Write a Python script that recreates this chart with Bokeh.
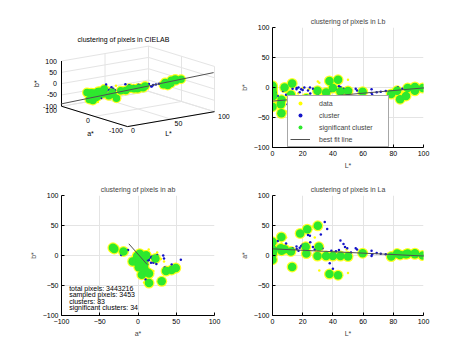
import numpy as np
from bokeh.plotting import figure
from bokeh.layouts import column, row
from bokeh.models import Range1d, Legend, LegendItem, FixedTicker
from bokeh.core.properties import value
from bokeh.embed import file_html
from bokeh.resources import INLINE

FONT = "Liberation Sans"
FS = "7px"

# ---------------- data ----------------
# significant clusters (L*, a*, b*)
sig_L = [0, 0, 0, 0, 0, 0.5, 5.9, 5.5, 6, 8, 12.2, 13, 18.3, 23, 22, 22.4, 30,
         30.7, 29.8, 35.5, 37.7, 40, 43.4, 45, 50, 59.7, 78.6, 82.5, 84.5, 88.4,
         89.5, 94.3, 94.3, 99.5]
sig_a = [22.8, 10.6, 2.2, -7, 5, 8, 31, 12, 8, 10.6, 6.7, -19, 36.7, 43.9, 14.4,
         3.3, 49.4, 14.4, -1, -1, -31, -1, -32.8, -1, -1.7, 3.9, -1.7, 3.3, 1, 2,
         3.3, 3.9, 2, 0]
sig_b = [-5, 0, 3, -10, -32, -14, -43, -28, -20.5, 0, -12, 6.7, -26, -24, -30,
         -18, -21, -46, -5.5, -8.3, 11, -1, 12.8, -6.7, -6, -7, -11, -5.5, -19.4,
         -14, -1, 1, -5.5, -1]

# non-significant clusters (L*, a*, b*)
cl_L = [3.5, 13.3, 15.9, 17.2, 19, 21.1, 23.5, 24.8, 26.8, 34.6, 36.2, 37.9, 40,
        49.5, 55.1, 56, 65.6, 65.6, 66, 71.7, 83, 45, 47, 10, 28, 32, 42, 44, 52,
        60, 69, 75, 86, 92, 97, 2, 1, 7, 9, 12, 14, 18, 20, 25, 30, 33, 39, 48, 16]
cl_a = [24, 12, 15, 8, 16, 10, 34, 33, 14, 56, 44, -13, -22, 12, 12, 10, 8, -1, 2,
        3, 2, 25, 19, 6, 10, 35, 7, 9, 5, 6, 4, 2, 4, 1, 2, 12, 18, 14, 20, 5, 9,
        13, 18, 22, 17, 12, 8, 14, 11]
cl_b = [-14, -2, -3, 0, -3, 0, -5, 0, -2, -7, -15, 9, 1, -3, -2, -5, -3, -9, -12,
        -7, 0.5, 1, -2, -28, -40, -20, -3, 2, -4, -6, -8, -6, -2, -4, -2, -8, -2,
        -6, -12, -16, -22, -8, -4, -10, -12, -15, -6, -8, -1]

# sampled pixel data (L*, a*, b*)
dat_L = [1, 2, 3, 4, 6, 7, 2, 1, 30, 31, 50, 49, 24, 20, 28, 17, 84, 86, 88, 91,
         93, 96, 98, 80, 44, 39, 60, 62, 36, 46, 14, 12, 22, 27, 19, 9, 6, 5, 33, 0]
dat_a = [8, 15, 6, 10, 20, 8, 25, -10, 14, -25, -29, 10, 12, 15, 30, 34, 2, 3, 4, 2,
         5, 1, 3, 0, -30, -28, 2, 5, 0, 1, -17, 8, 45, 48, 38, 30, 14, 33, 14, 4]
dat_b = [-35, -25, -30, -38, -26, -45, 5, -8, 10, 8, 13, -4, -3, -1, -6, -10, -3,
         -8, -4, -7, -1, -6, -3, -14, 14, 9, -9, -5, -10, -8, 4, -14, -22, -19, -28,
         -40, -46, -44, -44, -28]

# best fit lines
fit_L = [-33, 135]
fit_a = [15, -5]
fit_b = [-30, 7]
fit_ab_a = [-12, 12]
fit_ab_b = [19.5, -15]

total_pixels = 3443216
sampled_pixels = 3453
n_clusters = 83
n_significant = 34

L_ticks2d = [0, 20, 40, 60, 80, 100]
ab_ticks2d = [-100, -50, 0, 50, 100]
L_ticks3d = [0, 50, 100]
a_ticks3d = [-100, 0, 100]
b_ticks3d = [-100, -50, 0, 50, 100]

YEL = "#ffff00"
BLU = "#1414c8"
GRN = "#2ee82e"
LINE = "#505050"
GRID = "#e4e4e4"


def style_axes(p, xticks, yticks, xlabel, ylabel, title):
    p.title.text = title
    p.title.text_font = FONT
    p.title.text_font_size = FS
    p.title.text_font_style = "normal"
    p.title.align = "center"
    p.title.standoff = 5
    p.xaxis.ticker = FixedTicker(ticks=xticks)
    p.yaxis.ticker = FixedTicker(ticks=yticks)
    p.xaxis.axis_label = xlabel
    p.yaxis.axis_label = ylabel
    for ax in p.axis:
        ax.major_tick_in = 3
        ax.major_tick_out = 0
        ax.minor_tick_in = 0
        ax.minor_tick_out = 0
        ax.axis_line_color = "black"
        ax.major_tick_line_color = "black"
        ax.major_label_text_font = FONT
        ax.major_label_text_font_size = FS
        ax.major_label_text_color = "black"
        ax.major_label_standoff = 3
        ax.axis_label_text_font = FONT
        ax.axis_label_text_font_size = FS
        ax.axis_label_text_font_style = "normal"
        ax.axis_label_standoff = 3
    p.grid.grid_line_color = GRID
    p.outline_line_color = None
    p.background_fill_color = "white"
    p.border_fill_color = "white"


def make2d(w, h, left, right, top, bottom, xr, yr):
    return figure(width=w, height=h, x_range=Range1d(*xr), y_range=Range1d(*yr),
                  output_backend="svg", toolbar_location=None,
                  min_border_left=left, min_border_right=right,
                  min_border_top=top, min_border_bottom=bottom)


def draw_points(p, xd, yd, xc, yc, xs, ys, xf, yf, size_sig=8.5):
    p.scatter(xs, ys, size=size_sig + 2.5, fill_color=YEL, fill_alpha=0.85,
              line_color=None)
    r_dat = p.scatter(xd, yd, size=2.5, fill_color=YEL, line_color=None)
    r_cl = p.scatter(xc + xs, yc + ys, size=2.5, fill_color=BLU, line_color=None)
    r_sig = p.scatter(xs, ys, size=size_sig, fill_color=GRN, line_color=None)
    r_fit = p.line(xf, yf, line_color=LINE, line_width=1)
    return r_dat, r_cl, r_sig, r_fit


# ---------------- 3D panel (projected) ----------------
def proj(L, a, b):
    L = np.asarray(L, float); a = np.asarray(a, float); b = np.asarray(b, float)
    x = 94.0 + 0.87 * L - 0.33 * a
    y = 97.8 - 0.22 * L - 0.15 * a - 0.3335 * b
    return x, y


p3 = figure(width=237, height=177, x_range=Range1d(0, 237), y_range=Range1d(177, 0),
            output_backend="svg", toolbar_location=None, min_border=0)
p3.axis.visible = False
p3.grid.visible = False
p3.outline_line_color = None

gx, gy = [], []
def seg(p0, p1):
    x, y = proj([p0[0], p1[0]], [p0[1], p1[1]], [p0[2], p1[2]])
    gx.append(list(x)); gy.append(list(y))

Lmin, Lmax = L_ticks3d[0], L_ticks3d[-1]
amin, amax = a_ticks3d[0], a_ticks3d[-1]
zmin, zmax = b_ticks3d[0], b_ticks3d[-1]
for L in L_ticks3d:
    seg((L, amax, zmin), (L, amax, zmax))
    seg((L, amin, zmin), (L, amax, zmin))
for a in a_ticks3d:
    seg((Lmax, a, zmin), (Lmax, a, zmax))
    seg((Lmin, a, zmin), (Lmax, a, zmin))
for z in b_ticks3d:
    seg((Lmin, amax, z), (Lmax, amax, z))
    seg((Lmax, amin, z), (Lmax, amax, z))
p3.multi_line(gx, gy, line_color=GRID, line_width=1)

ax_x, ax_y = [], []
for p0, p1 in [((Lmin, amax, zmin), (Lmin, amax, zmax)),
               ((Lmin, amin, zmin), (Lmin, amax, zmin)),
               ((Lmin, amin, zmin), (Lmax, amin, zmin))]:
    x, y = proj([p0[0], p1[0]], [p0[1], p1[1]], [p0[2], p1[2]])
    ax_x.append(list(x)); ax_y.append(list(y))
p3.multi_line(ax_x, ax_y, line_color="black", line_width=1)

sx, sy = proj(sig_L, sig_a, sig_b)
cx, cy = proj(cl_L + sig_L, cl_a + sig_a, cl_b + sig_b)
dx, dy = proj(dat_L, dat_a, dat_b)
fx, fy = proj(fit_L, fit_a, fit_b)
p3.scatter(sx, sy, size=10, fill_color=YEL, fill_alpha=0.85, line_color=None)
p3.scatter(dx, dy, size=2.5, fill_color=YEL, line_color=None)
p3.scatter(cx, cy, size=2.5, fill_color=BLU, line_color=None)
p3.scatter(sx, sy, size=7.5, fill_color=GRN, line_color=None)
p3.line(fx, fy, line_color=LINE, line_width=1)

tk = dict(text_font=value(FONT), text_font_size=FS, text_color="black",
          text_baseline="middle")
bx, by = proj([Lmin] * len(b_ticks3d), [amax] * len(b_ticks3d), b_ticks3d)
p3.text(bx - 4.5, by, text=[str(v) for v in b_ticks3d], text_align="right", **tk)
ax3, ay3 = proj([Lmin] * len(a_ticks3d), a_ticks3d, [zmin] * len(a_ticks3d))
p3.text(ax3 - 4.5, ay3 + 6.5, text=[str(v) for v in a_ticks3d], text_align="right", **tk)
lx3, ly3 = proj(L_ticks3d, [amin] * len(L_ticks3d), [zmin] * len(L_ticks3d))
p3.text(lx3 + 3.5, ly3 + 6.5, text=[str(v) for v in L_ticks3d], text_align="left", **tk)

mx, my = proj([Lmin], [amax], [0])
p3.text(mx - 25, my, text=["b*"], text_align="center", angle=np.pi / 2, **tk)
mx, my = proj([Lmin], [0], [zmin])
p3.text(mx - 4, my + 24.5, text=["a*"], text_align="center", **tk)
mx, my = proj([50], [amin], [zmin])
p3.text(mx - 2.5, my + 21, text=["L*"], text_align="center", **tk)
p3.text([123], [18], text=["clustering of pixels in CIELAB"], text_align="center", **tk)

# ---------------- Lb panel ----------------
p_lb = make2d(237, 177, 33, 51, 27, 30, (0, 100), (-100, 100))
style_axes(p_lb, L_ticks2d, ab_ticks2d, "L*", "b*", "clustering of pixels in Lb")
r_dat, r_cl, r_sig, r_fit = draw_points(p_lb, dat_L, dat_b, cl_L, cl_b, sig_L, sig_b,
                                         fit_L, fit_b)
legend = Legend(items=[LegendItem(label="data", renderers=[r_dat]),
                       LegendItem(label="cluster", renderers=[r_cl]),
                       LegendItem(label="significant cluster", renderers=[r_sig]),
                       LegendItem(label="best fit line", renderers=[r_fit])],
                location=(15, 0))
legend.label_text_font = FONT
legend.label_text_font_size = FS
legend.glyph_width = 20
legend.glyph_height = 10
legend.label_height = 10
legend.label_width = 67
legend.label_standoff = 9
legend.spacing = 2
legend.padding = 2
legend.margin = 0
legend.border_line_color = "#505050"
legend.border_line_width = 1
legend.background_fill_color = "white"
legend.background_fill_alpha = 1
p_lb.add_layout(legend)

# ---------------- ab panel ----------------
p_ab = make2d(237, 178, 61, 23, 18, 40, (-100, 100), (-100, 100))
style_axes(p_ab, ab_ticks2d, ab_ticks2d, "a*", "b*", "clustering of pixels in ab")
draw_points(p_ab, dat_a, dat_b, cl_a, cl_b, sig_a, sig_b, fit_ab_a, fit_ab_b)
info = [f"total pixels: {total_pixels}", f"sampled pixels: {sampled_pixels}",
        f"clusters: {n_clusters}", f"significant clusters: {n_significant}"]
p_ab.text([-90] * 4, [-55 - 10.5 * i for i in range(4)], text=info, text_align="left",
          **tk)

# ---------------- La panel ----------------
p_la = make2d(237, 178, 33, 51, 18, 40, (0, 100), (-100, 100))
style_axes(p_la, L_ticks2d, ab_ticks2d, "L*", "a*", "clustering of pixels in La")
draw_points(p_la, dat_L, dat_a, cl_L, cl_a, sig_L, sig_a, fit_L, fit_a)

layout = column(row(p3, p_lb), row(p_ab, p_la))
open("out.html", "w").write(file_html(layout, INLINE))
